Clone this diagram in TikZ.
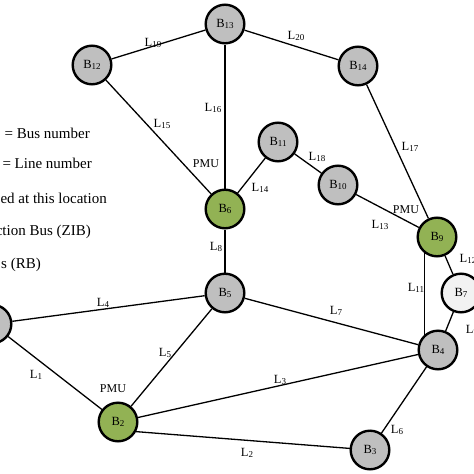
\documentclass[tikz,border=0pt]{standalone}
\usepackage{fontspec}
\setmainfont{Liberation Serif}
\usetikzlibrary{backgrounds}
\definecolor{busgray}{RGB}{191,191,191}
\definecolor{pmugreen}{RGB}{146,178,84}
\definecolor{radgray}{RGB}{242,242,242}
\newcommand{\idx}[1]{{\fontsize{9}{9}\selectfont\raisebox{-0.6pt}{#1}}}
\begin{document}
\begin{tikzpicture}[x=1pt,y=-1pt,
  bus/.style={circle,draw=black,line width=2.4pt,minimum size=38.6pt,inner sep=0pt,fill=busgray,font=\fontsize{12.5}{12.5}\selectfont},
  pmubus/.style={bus,fill=pmugreen},
  radbus/.style={bus,fill=radgray},
  conn/.style={line width=1.3pt,draw=black},
  lbl/.style={font=\fontsize{12.5}{12.5}\selectfont,inner sep=0pt},
  pmulbl/.style={font=\fontsize{12}{12}\selectfont,inner sep=0pt},
  legend/.style={font=\fontsize{15}{15}\selectfont,inner sep=0pt,anchor=east}]
\useasboundingbox (0,0) rectangle (474,474);
\clip (0,0) rectangle (474,474);

% buses
\node[bus]    (B1)  at (-8,324)  {B\idx{1}};
\node[pmubus] (B2)  at (118,422) {B\idx{2}};
\node[bus]    (B3)  at (370,450) {B\idx{3}};
\node[bus]    (B4)  at (438,350) {B\idx{4}};
\node[bus]    (B5)  at (225,293) {B\idx{5}};
\node[pmubus] (B6)  at (225,209) {B\idx{6}};
\node[radbus] (B7)  at (461,293) {B\idx{7}};
\node[pmubus] (B9)  at (437,237) {B\idx{9}};
\node[bus]    (B10) at (338,185) {B\idx{10}};
\node[bus]    (B11) at (278,142) {B\idx{11}};
\node[bus]    (B12) at (92,65)   {B\idx{12}};
\node[bus]    (B13) at (225,24)  {B\idx{13}};
\node[bus]    (B14) at (358,66)  {B\idx{14}};

% connectors
\begin{scope}[on background layer]
\draw[conn] (B1) -- (B2);
\draw[conn] (B2.-28) -- (B3.center);
\draw[conn] (B2) -- (B4);
\draw[conn] (B1) -- (B5);
\draw[conn] (B2) -- (B5);
\draw[conn] (B3) -- (B4);
\draw[conn] (B5) -- (B4);
\draw[conn] (B5) -- (B6);
\draw[conn] (B4) -- (B7);
\draw[conn] ([xshift=-12.5pt]B9.center) -- ([xshift=-12.5pt]B9.center |- B4.center);
\draw[conn] (B9) -- (B7);
\draw[conn] (B9) -- (B10);
\draw[conn] (B6) -- (B11);
\draw[conn] (B6) -- (B12);
\draw[conn] (B6) -- (B13);
\draw[conn] (B14) -- (B9);
\draw[conn] (B10) -- (B11);
\draw[conn] (B12) -- (B13);
\draw[conn] (B13) -- (B14);
\end{scope}

% line labels
\node[lbl] (l1)  at (36,375)  {L\idx{1}};
\node[lbl] (l2)  at (247,453) {L\idx{2}};
\node[lbl] (l3)  at (280,380) {L\idx{3}};
\node[lbl] (l4)  at (103,303) {L\idx{4}};
\node[lbl] (l5)  at (165,353) {L\idx{5}};
\node[lbl] (l6)  at (397,430) {L\idx{6}};
\node[lbl] (l7)  at (336,311) {L\idx{7}};
\node[lbl] (l8)  at (216,247) {L\idx{8}};
\node[lbl] (l9)  at (472,330) {L\idx{9}};
\node[lbl] (l11) at (416,288) {L\idx{11}};
\node[lbl] (l12) at (468,259) {L\idx{12}};
\node[lbl] (l13) at (380,225) {L\idx{13}};
\node[lbl] (l14) at (260,188) {L\idx{14}};
\node[lbl] (l15) at (162,124) {L\idx{15}};
\node[lbl] (l16) at (213,108) {L\idx{16}};
\node[lbl] (l17) at (410,147) {L\idx{17}};
\node[lbl] (l18) at (317,157) {L\idx{18}};
\node[lbl] (l19) at (153,43)  {L\idx{19}};
\node[lbl] (l20) at (296,36)  {L\idx{20}};

% PMU labels
\node[pmulbl] (p6) at (206,164) {PMU};
\node[pmulbl] (p2) at (113,389) {PMU};
\node[pmulbl] (p9) at (406,210) {PMU};

% legend (cut at the left edge)
\node[legend] (g1) at (90,133)  {= Bus number};
\node[legend] (g2) at (92,163)  {= Line number};
\node[legend] (g3) at (107,198) {ced at this location};
\node[legend] (g4) at (91,232)  {ction Bus (ZIB)};
\node[legend] (g5) at (41,265)  {s (RB)};
\end{tikzpicture}
\end{document}
